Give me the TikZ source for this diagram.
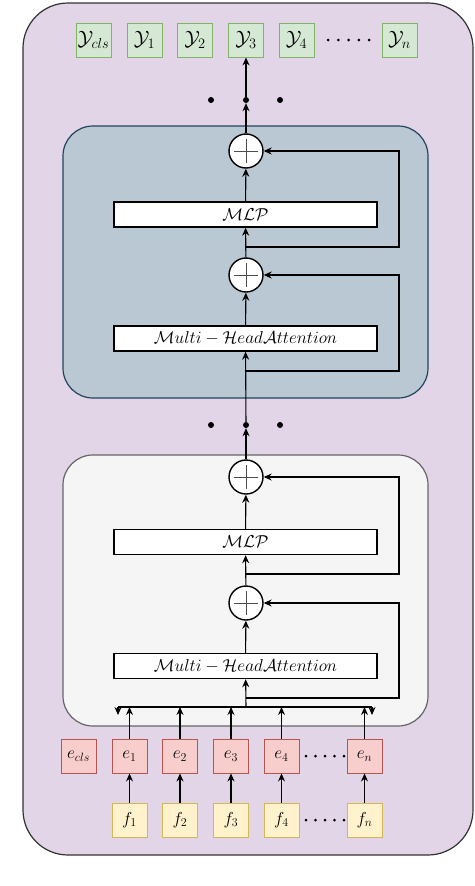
\documentclass[tikz,border=0pt]{standalone}
\usetikzlibrary{arrows.meta,calc}
\definecolor{purpfill}{HTML}{E1D5E7}
\definecolor{bluefill}{HTML}{BAC8D3}
\definecolor{blueline}{HTML}{23445D}
\definecolor{grayfill}{HTML}{F5F5F5}
\definecolor{grayline}{HTML}{666666}
\definecolor{greenfill}{HTML}{D5E8D4}
\definecolor{greenline}{HTML}{82B366}
\definecolor{redfill}{HTML}{F8CECC}
\definecolor{redline}{HTML}{B85450}
\definecolor{yelfill}{HTML}{FFF2CC}
\definecolor{yelline}{HTML}{D6B656}
\tikzset{
  arr/.style={line width=1.1pt,-{Stealth[length=8pt,width=7pt]}},
  ln/.style={line width=1.1pt},
  tok/.style={line width=0.9pt,minimum width=35pt,minimum height=34pt,inner sep=0pt,font=\fontsize{18}{20}\selectfont},
  ybox/.style={tok,draw=greenline,fill=greenfill,font=\fontsize{20}{22}\selectfont},
  ebox/.style={tok,draw=redline,fill=redfill},
  fbox/.style={tok,draw=yelline,fill=yelfill},
  layer/.style={draw=black,fill=white,line width=1.4pt,minimum width=263pt,minimum height=25pt,inner sep=0pt,font=\fontsize{18}{20}\selectfont},
  plus/.style={draw=black,fill=white,circle,line width=1.4pt,minimum size=34pt,inner sep=0pt,
    path picture={\draw[line width=0.8pt,black!70] ($(path picture bounding box.west)+(5pt,0)$) -- ($(path picture bounding box.east)+(-5pt,0)$);
                  \draw[line width=0.8pt,black!70] ($(path picture bounding box.north)+(0,-5pt)$) -- ($(path picture bounding box.south)+(0,5pt)$);}},
  dotn/.style={circle,fill=black,minimum size=6pt,inner sep=0pt},
  smalldot/.style={circle,fill=black,minimum size=3pt,inner sep=0pt}
}
\begin{document}
\begin{tikzpicture}[x=1pt,y=-1pt]
\useasboundingbox (0,0) rectangle (474,886);
% outer
\draw[fill=purpfill,draw=black!80,line width=1.2pt,rounded corners=45pt] (23,3) rectangle (473,855);
% blocks
\draw[fill=bluefill,draw=blueline,line width=1.2pt,rounded corners=30pt] (63,126) rectangle (428,398);
\draw[fill=grayfill,draw=grayline,line width=1.2pt,rounded corners=30pt] (63,455) rectangle (428,726);

% output row
\node[ybox] (ycls) at (93.5,40) {$\mathcal{Y}_{cls}$};
\node[ybox] (y1) at (144.5,40) {$\mathcal{Y}_{1}$};
\node[ybox] (y2) at (195,40) {$\mathcal{Y}_{2}$};
\node[ybox] (y3) at (246,40) {$\mathcal{Y}_{3}$};
\node[ybox] (y4) at (296.5,40) {$\mathcal{Y}_{4}$};
\node[ybox] (yn) at (399.5,40) {$\mathcal{Y}_{n}$};
\foreach \i in {0,...,4} \node[smalldot] (ydot\i) at (328+\i*10.3,40) {};

% top dots
\node[dotn] (ta) at (211,100) {};
\node[dotn] (tb) at (246,100) {};
\node[dotn] (tc) at (280,100) {};
% middle dots
\node[dotn] (ma) at (211,425) {};
\node[dotn] (mb) at (246,425) {};
\node[dotn] (mc) at (280,425) {};

% upper block
\node[plus] (p1) at (246,151) {};
\node[layer] (mlp1) at (245.5,214.5) {$\mathcal{MLP}$};
\node[plus] (p2) at (246,275) {};
\node[layer] (mha1) at (245.5,338.5) {$\mathcal{M}ulti-\mathcal{H}ead\mathcal{A}ttention$};
\coordinate (r1) at (246,247);
\coordinate (r2) at (246,371);
\coordinate (xr1) at (399,0);

% lower block
\node[plus] (p3) at (246,477) {};
\node[layer] (mlp2) at (245.5,542) {$\mathcal{MLP}$};
\node[plus] (p4) at (246,603) {};
\node[layer] (mha2) at (245.5,666) {$\mathcal{M}ulti-\mathcal{H}ead\mathcal{A}ttention$};
\coordinate (r3) at (246,574);
\coordinate (r4) at (246,698);
\coordinate (bus) at (246,707);
\coordinate (busL) at (118,707);
\coordinate (busR) at (372,707);

% embeddings
\node[ebox] (ecls) at (78.5,756) {$e_{cls}$};
\node[ebox] (e1) at (129.5,756) {$e_{1}$};
\node[ebox] (e2) at (180,756) {$e_{2}$};
\node[ebox] (e3) at (231,756) {$e_{3}$};
\node[ebox] (e4) at (281.5,756) {$e_{4}$};
\node[ebox] (en) at (364.5,756) {$e_{n}$};
\foreach \i in {0,...,4} \node[smalldot] (edot\i) at (306+\i*9.5,756) {};
\node[fbox] (f1) at (129.5,820) {$f_{1}$};
\node[fbox] (f2) at (180,820) {$f_{2}$};
\node[fbox] (f3) at (231,820) {$f_{3}$};
\node[fbox] (f4) at (281.5,820) {$f_{4}$};
\node[fbox] (fn) at (364.5,820) {$f_{n}$};
\foreach \i in {0,...,4} \node[smalldot] (fdot\i) at (306+\i*9.5,820) {};

% connectors top
\draw[arr] (tb) -- (y3);
\draw[arr] (p1) -- (tb);
\draw[arr] (mlp1) -- (p1);
\draw[arr] (p2) -- (mlp1);
\draw[arr] (mha1) -- (p2);
\draw[arr] (mb) -- (mha1);
\draw[arr] (r1) -- (r1 -| xr1) |- (p1.east);
\draw[arr] (r2) -- (r2 -| xr1) |- (p2.east);

% connectors lower
\draw[arr] (p3) -- (mb);
\draw[arr] (mlp2) -- (p3);
\draw[arr] (p4) -- (mlp2);
\draw[arr] (mha2) -- (p4);
\draw[arr] (bus) -- (mha2);
\draw[arr] (r3) -- (r3 -| xr1) |- (p3.east);
\draw[arr] (r4) -- (r4 -| xr1) |- (p4.east);
\draw[ln] (busL) -- (busR);
\draw[arr] (busL) -- ++(0,8);
\draw[arr] (busR) -- ++(0,8);

\foreach \n in {1,2,3,4,n} {
  \draw[arr] (e\n) -- (e\n.north |- bus);
  \draw[arr] (f\n) -- (e\n);
}
\end{tikzpicture}
\end{document}
